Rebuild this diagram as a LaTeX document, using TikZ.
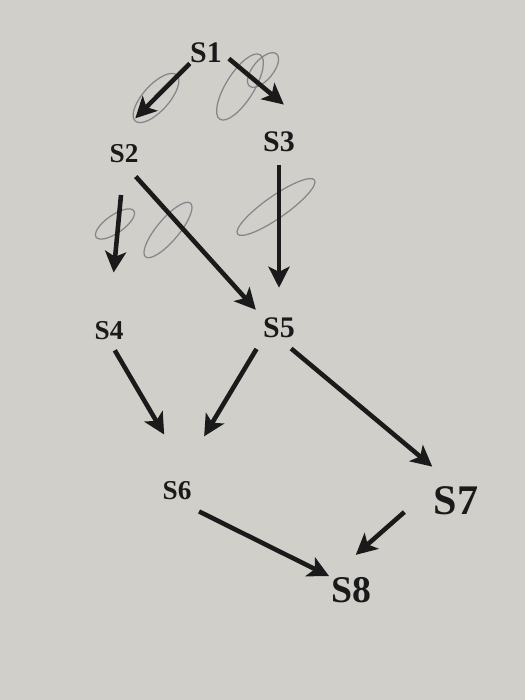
\documentclass[tikz,border=0pt]{standalone}
\usepackage{fontspec}
\setmainfont{Liberation Serif}
\usetikzlibrary{arrows.meta}
\definecolor{paper}{HTML}{D1CFCA}
\definecolor{ink}{HTML}{1A1A1A}
\definecolor{pencil}{HTML}{85858A}
\newcommand{\szf}[1]{\fontsize{#1}{#1}\selectfont}
\tikzstyle{stlabel} = [inner sep=0pt, text=ink, font=\bfseries]
\tikzstyle{arrow} = [draw=ink, line width=2.6pt, -{Stealth[length=12pt,width=12pt,inset=3pt]}]
\tikzstyle{oval} = [draw=pencil, line width=0.7pt]

\begin{document}
\begin{tikzpicture}[x=0.02cm, y=-0.02cm]
    \fill[paper] (0,0) rectangle (525,700);
    \useasboundingbox (0,0) rectangle (525,700);
    % states
    \node (S1) [stlabel] at (206,53) {\szf{17}S1};
    \node (S2) [stlabel] at (124,154) {\szf{15.5}S2};
    \node (S3) [stlabel] at (279,142) {\szf{17}S3};
    \node (S4) [stlabel] at (109,331) {\szf{15.5}S4};
    \node (S5) [stlabel] at (279,328) {\szf{17}S5};
    \node (S6) [stlabel] at (177,491) {\szf{15.5}S6};
    \node (S7) [stlabel] at (456,501) {\szf{24}S7};
    \node (S8) [stlabel] at (351,590) {\szf{21.5}S8};
    % pencil marks
    \draw[oval, rotate around={48:(156,98)}] (156,98) ellipse [x radius=31, y radius=13];
    \draw[oval, rotate around={58:(240,87)}] (240,87) ellipse [x radius=38, y radius=14];
    \draw[oval, rotate around={50:(263,70)}] (263,70) ellipse [x radius=21, y radius=10];
    \draw[oval, rotate around={35:(115,224)}] (115,224) ellipse [x radius=23, y radius=9];
    \draw[oval, rotate around={50:(168,230)}] (168,230) ellipse [x radius=35, y radius=11];
    \draw[oval, rotate around={35:(276,207)}] (276,207) ellipse [x radius=47, y radius=11];
    % transitions
    \draw[arrow, shorten >=21pt] (S1.south west) -- (S2.north west);
    \draw[arrow, shorten <=5pt, shorten >=24pt] (S1.east) -- ([xshift=12pt]S3.north east);
    \draw[arrow, shorten <=18pt, shorten >=28pt] (S2.south) -- (S4.north);
    \draw[arrow, shorten <=10pt, shorten >=6pt] (S2.south) -- (S5.north west);
    \draw[arrow, shorten <=7pt, shorten >=17pt] (S3.south) -- (S5.north);
    \draw[arrow, shorten <=6.5pt, shorten >=31pt] (S4.south) -- (S6.north east);
    \draw[arrow, shorten <=7pt, shorten >=30pt] (S5.south west) -- (S6.north);
    \draw[arrow, shorten <=9pt, shorten >=17.6pt] (S5.south) -- (S7.north);
    \draw[arrow, shorten <=22pt, shorten >=19pt] (S7.north west) -- (S8.north west);
    \draw[arrow, shorten <=14pt, shorten >=1pt] (S6.south) -- (S8.north west);
\end{tikzpicture}
\end{document}
